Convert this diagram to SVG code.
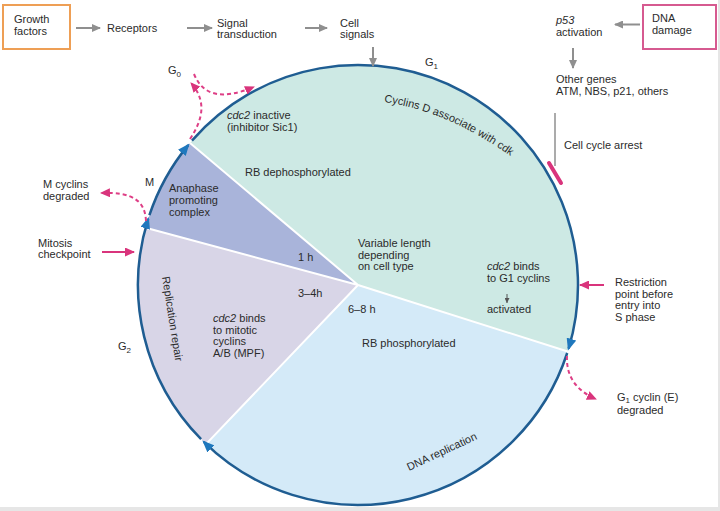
<svg xmlns="http://www.w3.org/2000/svg" width="720" height="511" viewBox="0 0 720 511">
<style>
text{font-family:"Liberation Sans",Arial,sans-serif;font-size:11px;fill:#2b2b2b}
.it{font-style:italic}
.sub{font-size:8px}
.sector{stroke:none}
.sep{stroke:#ffffff;stroke-width:2;fill:none}
.ring{fill:none;stroke:#1f5d92;stroke-width:2.5;marker-end:url(#blueHead)}
.grey{fill:none;stroke:#8f8f8f;stroke-width:2;marker-end:url(#greyHead)}
.pink{fill:none;stroke:#d9347c;stroke-width:2;marker-end:url(#pinkHead)}
.pinkdash{fill:none;stroke:#de3f86;stroke-width:2;stroke-dasharray:4 3;marker-end:url(#pinkHead)}
</style>
<defs>
<marker id="blueHead" markerUnits="userSpaceOnUse" markerWidth="12" markerHeight="10" refX="10" refY="5" orient="auto">
<path d="M0,0 L12,5 L0,10 Z" fill="#1f78bd"/>
</marker>
<marker id="greyHead" markerUnits="userSpaceOnUse" markerWidth="9" markerHeight="8" refX="8" refY="4" orient="auto">
<path d="M0,0 L9,4 L0,8 Z" fill="#8f8f8f"/>
</marker>
<marker id="smallHead" markerUnits="userSpaceOnUse" markerWidth="5" markerHeight="5" refX="5" refY="2.5" orient="auto">
<path d="M0,0 L5,2.5 L0,5 Z" fill="#555555"/>
</marker>
<marker id="pinkHead" markerUnits="userSpaceOnUse" markerWidth="10" markerHeight="9" refX="9" refY="4.5" orient="auto">
<path d="M0,0 L10,4.5 L0,9 Z" fill="#d9347c"/>
</marker>
</defs>
<rect x="0" y="0" width="720" height="511" fill="#ffffff"/>
<rect x="0" y="507" width="720" height="4" fill="#e6e6e6"/>
<rect x="718" y="0" width="2" height="511" fill="#e6e6e6"/>

<g id="cycle">
<path id="sector-G1" class="sector" d="M358,285 L190,143 A220,220 0 0 1 567.7,351.5 Z" fill="#cde9e4"/>
<path id="sector-S" class="sector" d="M358,285 L567.7,351.5 A220,220 0 0 1 206,444.1 Z" fill="#d4eaf8"/>
<path id="sector-G2" class="sector" d="M358,285 L206,444.1 A220,220 0 0 1 145.6,227.7 Z" fill="#d8d5e7"/>
<path id="sector-M" class="sector" d="M358,285 L145.6,227.7 A220,220 0 0 1 190,143 Z" fill="#a9b4da"/>
<path class="sep" d="M358,285 L190,143 M358,285 L567.7,351.5 M358,285 L206,444.1 M358,285 L145.6,227.7"/>
</g>

<g id="connectors">
<path class="ring" d="M191.96,140.66 A220,220 0 0 1 568.6,348.6"/>
<path class="ring" d="M567.2,353 A220,220 0 0 1 203.8,441.9"/>
<path class="ring" d="M201.1,439.2 A220,220 0 0 1 148.2,218.8"/>
<path class="ring" d="M149.4,215.2 A220,220 0 0 1 188.2,145.1"/>
<path class="grey" d="M76,28 L100,28"/>
<path class="grey" d="M187,28 L212,28"/>
<path class="grey" d="M305,28 L327,28"/>
<path class="grey" d="M373,47 L373,66"/>
<path class="grey" d="M640,24.5 L615,24.5"/>
<path class="grey" d="M573,48 L573,68"/>
<path d="M555,113 L555,166" fill="none" stroke="#8f8f8f" stroke-width="1.5"/>
<path d="M549,163 L561,183" fill="none" stroke="#d9347c" stroke-width="4" stroke-linecap="round"/>
<path d="M507,294 L507,303" fill="none" stroke="#555555" stroke-width="1" marker-end="url(#smallHead)"/>
<path class="pinkdash" d="M190,139 C204,118 206,100 191,83"/>
<path class="pinkdash" d="M194,74 C203,96 222,100 254,87"/>
<path class="pinkdash" d="M146,221 C145,200 132,192 101,193"/>
<path class="pinkdash" d="M567,356 C566,377 577,391 596,399"/>
<path class="pink" d="M102,252 L134,252"/>
<path class="pink" d="M604,285 L580,285"/>
</g>

<g id="growth-factors">
<rect x="3" y="5" width="67" height="44" fill="none" stroke="#ee9f55" stroke-width="2"/>
<text x="14" y="23">Growth</text>
<text x="14" y="35">factors</text>
</g>
<g id="receptors"><text x="107" y="32">Receptors</text></g>
<g id="signal-transduction"><text x="217" y="27">Signal</text><text x="217" y="38">transduction</text></g>
<g id="cell-signals"><text x="340" y="27">Cell</text><text x="340" y="38">signals</text></g>
<g id="dna-damage">
<rect x="643" y="5" width="73" height="44" fill="none" stroke="#d65a90" stroke-width="2"/>
<text x="652" y="22">DNA</text>
<text x="652" y="34">damage</text>
</g>
<g id="p53"><text x="556" y="24" class="it">p53</text><text x="556" y="36">activation</text></g>
<g id="other-genes"><text x="556" y="83">Other genes</text><text x="556" y="95">ATM, NBS, p21, others</text></g>
<g id="cell-cycle-arrest"><text x="564" y="149">Cell cycle arrest</text></g>
<g id="restriction-point">
<text x="615" y="286">Restriction</text>
<text x="615" y="297.5">point before</text>
<text x="615" y="309">entry into</text>
<text x="615" y="320.5">S phase</text>
</g>
<g id="g1-cyclin-degraded">
<text x="617" y="401">G<tspan class="sub" dy="2">1</tspan><tspan dy="-2"> cyclin (E)</tspan></text>
<text x="617" y="414">degraded</text>
</g>
<g id="g0"><text x="168" y="74">G<tspan class="sub" dy="2.5">0</tspan></text></g>
<g id="m-cyclins-degraded"><text x="43" y="188">M cyclins</text><text x="43" y="199.5">degraded</text></g>
<g id="mitosis-checkpoint"><text x="38" y="247">Mitosis</text><text x="38" y="258">checkpoint</text></g>

<g id="phase-G1">
<text x="425" y="66">G<tspan class="sub" dy="2.5">1</tspan></text>
<path id="cyclinPath" d="M384,102 Q449.6,111.2 516,160" fill="none"/>
<text><textPath href="#cyclinPath">Cyclins D associate with cdk</textPath></text>
<text x="227" y="119"><tspan class="it">cdc2</tspan> inactive</text>
<text x="227" y="131">(inhibitor Sic1)</text>
<text x="245" y="176">RB dephosphorylated</text>
<text x="358" y="247">Variable length</text>
<text x="358" y="258.5">depending</text>
<text x="358" y="270">on cell type</text>
<text x="487" y="270"><tspan class="it">cdc2</tspan> binds</text>
<text x="487" y="282">to G1 cyclins</text>
<text x="487" y="313">activated</text>
</g>
<g id="phase-S">
<text x="348" y="313">6–8 h</text>
<text x="362" y="347">RB phosphorylated</text>
<text transform="translate(409,471) rotate(-25)">DNA replication</text>
</g>
<g id="phase-G2">
<text x="118" y="350">G<tspan class="sub" dy="2.5">2</tspan></text>
<text x="298" y="297">3–4h</text>
<text transform="translate(162,277) rotate(81)">Replication repair</text>
<text x="213" y="322"><tspan class="it">cdc2</tspan> binds</text>
<text x="213" y="333.5">to mitotic</text>
<text x="213" y="345">cyclins</text>
<text x="213" y="356.5">A/B (MPF)</text>
</g>
<g id="phase-M">
<text x="145" y="186">M</text>
<text x="298" y="261">1 h</text>
<text x="169" y="192">Anaphase</text>
<text x="169" y="204">promoting</text>
<text x="169" y="216">complex</text>
</g>
</svg>
